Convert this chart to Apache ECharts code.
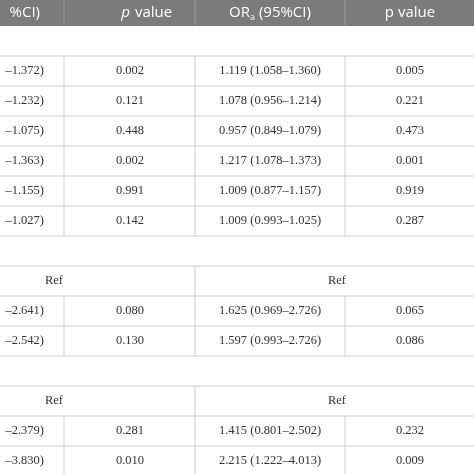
<!DOCTYPE html>
<html>
<head>
<meta charset="utf-8">
<script src="https://cdn.jsdelivr.net/npm/echarts@6/dist/echarts.min.js"></script>
<style>
html, body { margin: 0; padding: 0; background: #fff; }
#chart { width: 474px; height: 474px; }
</style>
</head>
<body>
<div id="chart"></div>
<script>
// table content (the first column is cut off at the left edge of the picture)
const headerLabels = ['%CI)', 'p value', 'OR{sub|a} (95%CI)', 'p value'];
const ciTail = ['\u20131.372)', '\u20131.232)', '\u20131.075)', '\u20131.363)', '\u20131.155)', '\u20131.027)',
                '\u20132.641)', '\u20132.542)', '\u20132.379)', '\u20133.830)'];
const pCrude = ['0.002', '0.121', '0.448', '0.002', '0.991', '0.142', '0.080', '0.130', '0.281', '0.010'];
const orAdj = ['1.119 (1.058\u20131.360)', '1.078 (0.956\u20131.214)', '0.957 (0.849\u20131.079)',
               '1.217 (1.078\u20131.373)', '1.009 (0.877\u20131.157)', '1.009 (0.993\u20131.025)',
               '1.625 (0.969\u20132.726)', '1.597 (0.993\u20132.726)', '1.415 (0.801\u20132.502)',
               '2.215 (1.222\u20134.013)'];
const pAdj = ['0.005', '0.221', '0.473', '0.001', '0.919', '0.287', '0.065', '0.086', '0.232', '0.009'];
const refLabel = 'Ref';

// row sequence: header, group title (blank), data rows, reference rows
const rowKinds = ['header', 'blank', 'data', 'data', 'data', 'data', 'data', 'data',
                  'blank', 'ref', 'data', 'data', 'blank', 'ref', 'data', 'data'];

const colEdges = [-87, 64, 195, 345, 479];
const ROW_H = 30, HEAD_H = 26;
const GRID = '#cfcfcf';
const serif = '"Liberation Serif", "DejaVu Serif", serif';
const sans = '"Open Sans", "Noto Sans", sans-serif';

let rows = [];
let y = 0, di = 0;
rowKinds.forEach(kind => {
    let h = kind === 'header' ? HEAD_H : ROW_H;
    let r = { kind: kind, y0: y, y1: y + h };
    if (kind === 'data') { r.idx = di++; }
    rows.push(r);
    y += h;
});

function renderRow(params, api) {
    let r = rows[params.dataIndex];
    let children = [];
    let p0 = api.coord([0, r.y0]);
    let p1 = api.coord([474, r.y1]);
    let top = p0[1], bot = p1[1], mid = (top + bot) / 2;
    let X = v => api.coord([v, 0])[0];
    let text = (x, s, align, font, size, color, style) => children.push({
        type: 'text',
        style: {
            x: x, y: mid, text: s, align: align, verticalAlign: 'middle',
            fontFamily: font, fontSize: size, fill: color, fontStyle: style || 'normal',
            rich: { sub: { fontSize: 9, verticalAlign: 'bottom', padding: [8, 0, 0, 0], fill: color, fontFamily: font } }
        }
    });
    let vline = x => children.push({
        type: 'line', shape: { x1: X(x), y1: top, x2: X(x), y2: bot },
        style: { stroke: r.kind === 'header' ? '#9a9a9a' : GRID, lineWidth: 1 }
    });
    if (r.kind === 'header') {
        children.push({ type: 'rect', shape: { x: 0, y: top, width: X(474), height: bot - top }, style: { fill: '#7b7b7b' } });
        [64, 195, 345].forEach(vline);
        text(X(40), headerLabels[0], 'right', sans, 15, '#fff');
        text(X(130), 'p', 'right', sans, 15, '#fff', 'italic');
        text(X(131), ' value', 'left', sans, 15, '#fff');
        text(X(270), headerLabels[2], 'center', sans, 15, '#fff');
        text(X(410), headerLabels[3], 'center', sans, 15, '#fff');
        return { type: 'group', children: children };
    }
    if (r.kind === 'data') {
        [64, 195, 345].forEach(vline);
        text(X(44), ciTail[r.idx], 'right', serif, 12.5, '#333');
        text(X(130), pCrude[r.idx], 'center', serif, 12.5, '#333');
        text(X(270), orAdj[r.idx], 'center', serif, 12.5, '#333');
        text(X(410), pAdj[r.idx], 'center', serif, 12.5, '#333');
    }
    if (r.kind === 'ref') {
        vline(195);
        text(X((colEdges[0] + colEdges[2]) / 2), refLabel, 'center', serif, 12.5, '#333');
        text(X((colEdges[2] + colEdges[4]) / 2), refLabel, 'center', serif, 12.5, '#333');
    }
    if (r.kind !== 'blank' || rows[params.dataIndex + 1] && rows[params.dataIndex + 1].kind !== 'blank') {
        children.push({ type: 'line', shape: { x1: 0, y1: bot, x2: X(474), y2: bot }, style: { stroke: GRID, lineWidth: 1.2 } });
    }
    return { type: 'group', children: children };
}

let chart = echarts.init(document.getElementById('chart'));
chart.setOption({
    animation: false,
    grid: { left: 0, right: 0, top: 0, bottom: 0 },
    xAxis: { type: 'value', min: 0, max: 474, show: false },
    yAxis: { type: 'value', min: 0, max: 474, inverse: true, show: false },
    series: [{
        type: 'custom',
        renderItem: renderRow,
        clip: true,
        data: rows.map((r, i) => [i, r.y0, r.y1])
    }]
});
</script>
</body>
</html>
